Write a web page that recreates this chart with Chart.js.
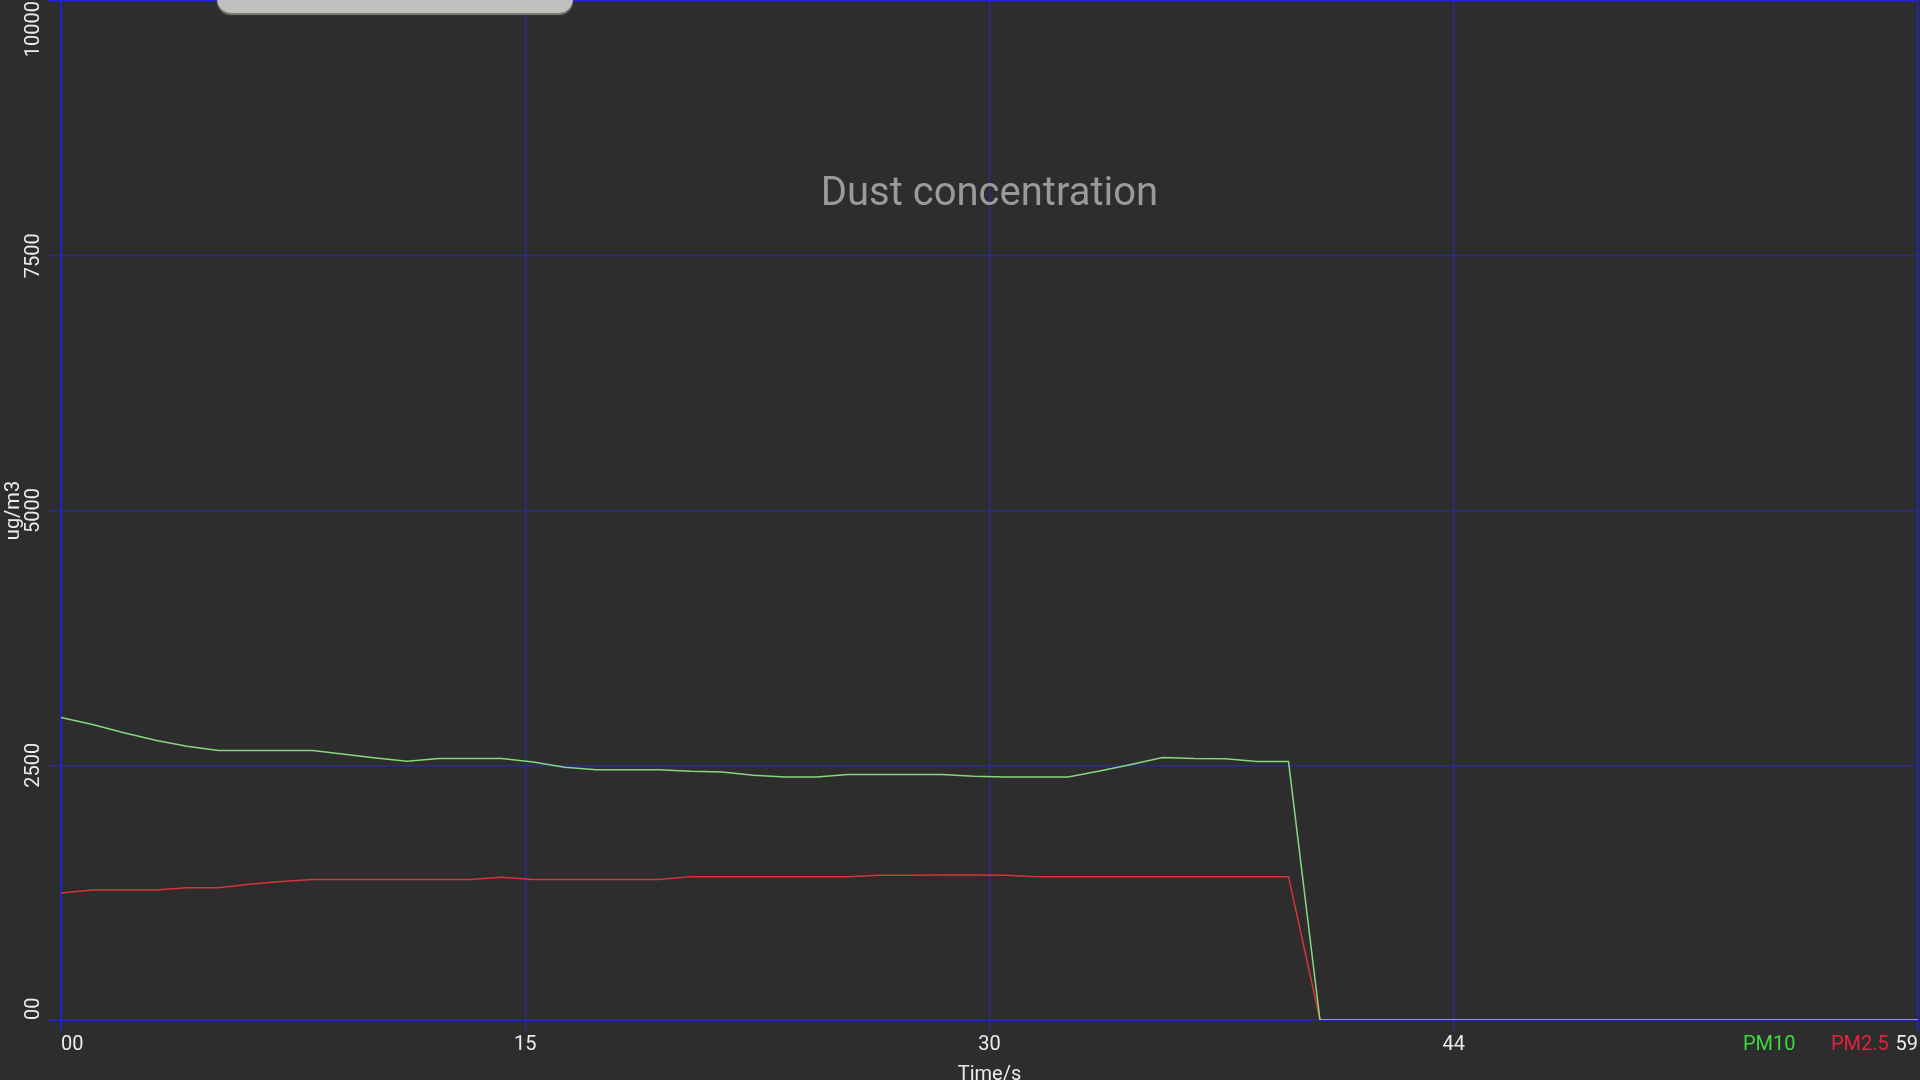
<!DOCTYPE html>
<html>
<head>
<meta charset="utf-8">
<script src="https://cdn.jsdelivr.net/npm/chart.js@4.4.0/dist/chart.umd.min.js"></script>
<style>
html,body{margin:0;padding:0;background:#2d2d2d;overflow:hidden}
#wrap{position:relative;width:1920px;height:1080px;background:#2d2d2d}
#c{position:absolute;left:0;top:0}
#toast{position:absolute;left:217px;top:-22px;width:356px;height:35px;border-radius:14px;
  background:linear-gradient(#b8b6cc,#c2c2ba);box-shadow:0 2px 1px #7a7a7a;}
</style>
</head>
<body>
<div id="wrap">
  <canvas id="c" width="1920" height="1080"></canvas>
  <div id="toast"></div>
</div>
<script>
// ---- data ----
const timeSeconds = [0,1,2,3,4,5,6,7,8,9,10,11,12,13,14,15,16,17,18,19,20,21,22,23,24,25,26,27,28,29,
  30,31,32,33,34,35,36,37,38,39,40,41,42,43,44,45,46,47,48,49,50,51,52,53,54,55,56,57,58,59];
const pm10 = [2970,2900,2818,2746,2687,2645,2645,2645,2645,2608,2572,2539,2566,2566,2566,2533,2480,2457,2457,2457,
  2441,2434,2401,2385,2385,2408,2408,2408,2408,2392,2385,2385,2385,2444,2507,2576,2566,2563,2536,2536,
  0,0,0,0,0,0,0,0,0,0,0,0,0,0,0,0,0,0,0,0];
const pm25 = [1247,1276,1276,1276,1299,1299,1332,1358,1378,1378,1378,1378,1378,1378,1401,1378,1378,1378,1378,1378,
  1407,1407,1407,1407,1407,1407,1420,1420,1424,1424,1420,1407,1407,1407,1407,1407,1407,1407,1407,1407,
  0,0,0,0,0,0,0,0,0,0,0,0,0,0,0,0,0,0,0,0];
const seriesLabels = ['PM10','PM2.5'];
const xTickValues = [0,14.75,29.5,44.25,59];
const xTickLabels = ['00','15','30','44','59'];
const yTickValues = [0,2500,5000,7500,10000];
const yTickLabels = ['00','2500','5000','7500','10000'];
const chartTitle = 'Dust concentration';
const xTitle = 'Time/s';
const yTitle = 'ug/m3';

// ---- styles ----
const FONT = 'Roboto, "Noto Sans", sans-serif';
const lineColors = ['#86d77e','#d8343f'];
const legendColors = ['#3cdc3c','#e6203a'];
const gridDim = '#2c2c86';
const gridBright = '#2020e6';
const textColor = '#ececec';

const decor = {
  id: 'decor',
  afterDraw(chart) {
    const ctx = chart.ctx;
    const ca = chart.chartArea;
    const ys = chart.scales.y;
    ctx.save();
    // title
    ctx.font = '40px ' + FONT;
    ctx.fillStyle = '#9a9a9a';
    ctx.textAlign = 'center';
    ctx.textBaseline = 'alphabetic';
    ctx.fillText(chartTitle, (ca.left + ca.right) / 2, 205);
    // y tick labels (rotated)
    ctx.font = '20px ' + FONT;
    ctx.fillStyle = textColor;
    const n = ys.ticks.length;
    ys.ticks.forEach((t, i) => {
      const py = ys.getPixelForValue(t.value);
      ctx.save();
      ctx.translate(39, py);
      ctx.rotate(-Math.PI / 2);
      ctx.textAlign = i === 0 ? 'left' : (i === n - 1 ? 'right' : 'center');
      ctx.textBaseline = 'alphabetic';
      ctx.fillText(yTickLabels[i], 0, 0);
      ctx.restore();
    });
    // y title
    ctx.save();
    ctx.font = '20px ' + FONT;
    ctx.translate(19, (ys.top + ys.bottom) / 2);
    ctx.rotate(-Math.PI / 2);
    ctx.textAlign = 'center';
    ctx.textBaseline = 'alphabetic';
    ctx.fillText(yTitle, 0, 0);
    ctx.restore();
    // x title
    ctx.font = '20px ' + FONT;
    ctx.textAlign = 'center';
    ctx.textBaseline = 'alphabetic';
    ctx.fillText(xTitle, (ca.left + ca.right) / 2, 1080);
    // legend
    const lx = [1743, 1831];
    chart.data.datasets.forEach((ds, i) => {
      ctx.fillStyle = legendColors[i];
      ctx.textAlign = 'left';
      ctx.fillText(ds.label, lx[i], 1050);
    });
    ctx.restore();
  }
};

new Chart(document.getElementById('c'), {
  type: 'line',
  data: {
    datasets: [
      { label: seriesLabels[0], data: timeSeconds.map((t, i) => ({ x: t, y: pm10[i] })),
        borderColor: lineColors[0], borderWidth: 1.5, pointRadius: 0, tension: 0, fill: false },
      { label: seriesLabels[1], data: timeSeconds.map((t, i) => ({ x: t, y: pm25[i] })),
        borderColor: lineColors[1], borderWidth: 1.5, pointRadius: 0, tension: 0, fill: false }
    ]
  },
  options: {
    responsive: false,
    devicePixelRatio: 1,
    animation: false,
    layout: { padding: { top: 1, right: 2, left: 0, bottom: 0 } },
    plugins: { legend: { display: false }, tooltip: { enabled: false }, title: { display: false } },
    scales: {
      x: {
        type: 'linear', min: 0, max: 59,
        afterBuildTicks: s => { s.ticks = xTickValues.map(v => ({ value: v })); },
        afterFit: s => { s.height = 60; },
        ticks: {
          align: 'inner', padding: 2, color: textColor, font: { family: FONT, size: 20 },
          maxRotation: 0, minRotation: 0,
          callback: (v, i) => xTickLabels[i]
        },
        grid: {
          color: c => (c.index === 0 || c.index === xTickValues.length - 1) ? gridBright : gridDim,
          lineWidth: 1.5, drawTicks: true, tickLength: 11
        },
        border: { color: gridBright, width: 1.5 }
      },
      y: {
        min: 0, max: 10000,
        afterBuildTicks: s => { s.ticks = yTickValues.map(v => ({ value: v })); },
        afterFit: s => { s.width = 61; },
        ticks: { display: false },
        grid: {
          color: c => (c.index === 0 || c.index === yTickValues.length - 1) ? gridBright : gridDim,
          lineWidth: 1.5, drawTicks: true, tickLength: 13
        },
        border: { color: gridBright, width: 1.5 }
      }
    }
  },
  plugins: [decor]
});
</script>
</body>
</html>
